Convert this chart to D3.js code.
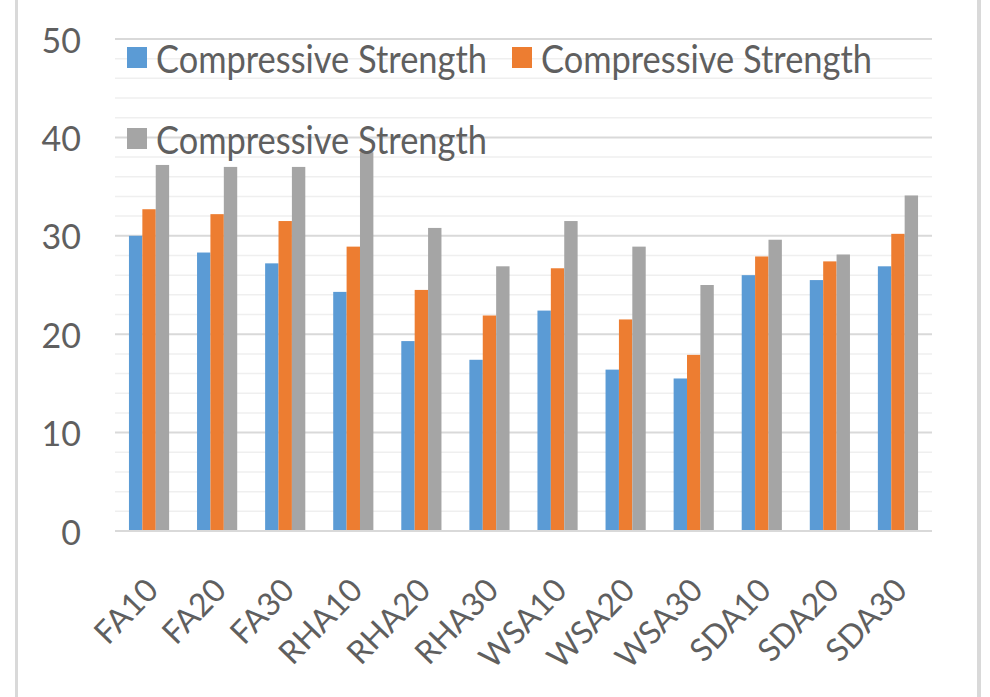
<!DOCTYPE html>
<html>
<head>
<meta charset="utf-8">
<script src="https://cdn.jsdelivr.net/npm/d3@7"></script>
<style>
  html, body { margin: 0; padding: 0; background: #fff; }
  svg text { font-family: Lato, "Open Sans", sans-serif; font-weight: 400; fill: #5f5f5f; }
</style>
</head>
<body>
<svg id="chart" width="990" height="697"></svg>
<script>
const categories = ["FA10","FA20","FA30","RHA10","RHA20","RHA30","WSA10","WSA20","WSA30","SDA10","SDA20","SDA30"];
const seriesNames = ["Compressive Strength","Compressive Strength","Compressive Strength"];
const series1 = [30.0, 28.3, 27.2, 24.3, 19.3, 17.4, 22.4, 16.4, 15.5, 26.0, 25.5, 26.9];
const series2 = [32.7, 32.2, 31.5, 28.9, 24.5, 21.9, 26.7, 21.5, 17.9, 27.9, 27.4, 30.2];
const series3 = [37.2, 37.0, 37.0, 38.5, 30.8, 26.9, 31.5, 28.9, 25.0, 29.6, 28.1, 34.1];
const yTicks = [0, 10, 20, 30, 40, 50];
const colors = ["#5b9bd5", "#ed7d31", "#a5a5a5"];

(function () {
const allSeries = [series1, series2, series3];
const svg = d3.select("#chart");

// frame lines
svg.append("rect").attr("x", 15).attr("y", 0).attr("width", 3).attr("height", 697).attr("fill", "#d9d9d9");
svg.append("rect").attr("x", 977).attr("y", 0).attr("width", 4).attr("height", 697).attr("fill", "#d9d9d9");

const pLeft = 115, pRight = 932, pTop = 39, pBottom = 531;
const x = d3.scaleBand().domain(categories).range([pLeft, pRight]).paddingInner(0.41).paddingOuter(0.205);
const xs = d3.scaleBand().domain([0,1,2]).range([0, x.bandwidth()]);
const y = d3.scaleLinear().domain([0, 50]).range([pBottom, pTop]);

// minor gridlines
const minor = d3.range(2, 50, 2).filter(v => v % 10 !== 0);
svg.append("g").selectAll("line").data(minor).join("line")
  .attr("x1", pLeft).attr("x2", pRight)
  .attr("y1", d => y(d)).attr("y2", d => y(d))
  .attr("stroke", "#efefef").attr("stroke-width", 1.5);

// major gridlines
svg.append("g").selectAll("line").data(yTicks.filter(v => v > 0)).join("line")
  .attr("x1", pLeft).attr("x2", pRight)
  .attr("y1", d => y(d)).attr("y2", d => y(d))
  .attr("stroke", "#d9d9d9").attr("stroke-width", 2);

// bars
allSeries.forEach((vals, si) => {
  svg.append("g").selectAll("rect").data(vals).join("rect")
    .attr("x", (d, i) => x(categories[i]) + xs(si))
    .attr("width", xs.bandwidth())
    .attr("y", d => y(d))
    .attr("height", d => y(0) - y(d))
    .attr("fill", colors[si]);
});

// baseline
svg.append("line").attr("x1", pLeft).attr("x2", pRight)
  .attr("y1", y(0)).attr("y2", y(0)).attr("stroke", "#d9d9d9").attr("stroke-width", 2);

// y tick labels
svg.append("g").selectAll("text").data(yTicks).join("text")
  .attr("x", 81).attr("y", d => y(d))
  .attr("text-anchor", "end").attr("dominant-baseline", "central")
  .attr("font-size", 34)
  .text(d => d);

// x category labels
svg.append("g").selectAll("text").data(categories).join("text")
  .attr("transform", d => `translate(${x(d) + x.bandwidth()/2 + 11},${592}) rotate(-46)`)
  .attr("text-anchor", "end")
  .attr("font-size", 32)
  .text(d => d);

// legend
const legendItems = [
  {sx: 127, sy: 47, tx: 156, ty: 58, i: 0},
  {sx: 512, sy: 47, tx: 541, ty: 58, i: 1},
  {sx: 127, sy: 128, tx: 156, ty: 139, i: 2}
];
const lg = svg.append("g");
legendItems.forEach(it => {
  lg.append("rect").attr("x", it.sx).attr("y", it.sy).attr("width", 20).attr("height", 21).attr("fill", colors[it.i]);
  lg.append("text").attr("x", it.tx).attr("y", it.ty)
    .attr("dominant-baseline", "central").attr("font-size", 39)
    .attr("textLength", 331).attr("lengthAdjust", "spacingAndGlyphs")
    .text(seriesNames[it.i]);
});
})();
</script>
</body>
</html>
